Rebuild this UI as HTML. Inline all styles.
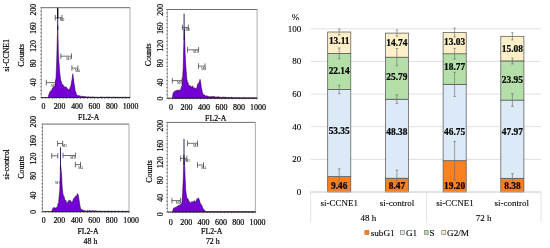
<!DOCTYPE html>
<html><head><meta charset="utf-8"><title>Cell cycle</title>
<style>html,body{margin:0;padding:0;background:#fff;}svg{display:block;filter:blur(0.4px);}text{font-family:"Liberation Serif", serif;fill:#000;stroke:#000;stroke-width:0.2px;}.R text{stroke-width:0.1px;}</style>
</head><body>
<svg width="550" height="248" viewBox="0 0 550 248">
<rect width="550" height="248" fill="#fff"/>
<path d="M48.20,97.60 L48.80,94.67 L49.40,93.24 L50.00,91.50 L50.60,91.17 L51.20,90.24 L51.80,90.23 L52.40,88.26 L53.00,87.38 L53.60,87.11 L54.20,86.50 L54.80,86.70 L55.40,81.71 L56.00,77.96 L56.60,63.91 L57.20,42.04 L57.80,25.54 L58.40,53.22 L59.00,62.39 L59.60,70.82 L60.20,76.52 L60.80,80.31 L61.40,81.77 L62.00,84.73 L62.60,84.24 L63.20,85.09 L63.80,86.60 L64.40,86.58 L65.00,87.96 L65.60,86.72 L66.20,87.24 L66.80,87.58 L67.40,88.55 L68.00,89.48 L68.60,89.98 L69.20,89.36 L69.80,88.57 L70.40,86.91 L71.00,85.41 L71.60,81.52 L72.20,78.39 L72.80,73.78 L73.40,77.95 L74.00,83.32 L74.60,86.17 L75.20,90.64 L75.80,92.08 L76.40,94.19 L77.00,95.07 L77.60,95.57 L78.20,95.62 L78.80,95.87 L79.40,95.73 L80.00,95.92 L80.60,96.15 L81.20,96.59 L81.80,96.52 L82.40,96.26 L83.00,96.23 L83.60,96.58 L84.20,96.47 L84.80,96.78 L85.40,96.58 L86.00,96.52 L86.60,97.07 L87.20,97.01 L87.80,96.73 L88.40,96.73 L89.00,96.96 L89.60,97.01 L90.20,97.01 L90.80,96.78 L91.40,97.30 L92.00,97.07 L92.60,96.86 L93.20,97.25 L93.80,96.86 L94.40,97.30 L95.00,97.06 L95.60,97.18 L96.20,97.12 L96.80,97.30 L97.40,97.27 L98.00,97.18 L98.60,97.26 L99.20,97.30 L99.80,97.30 L100.40,96.88 L101.00,97.08 L101.60,97.05 L102.20,97.15 L102.80,97.17 L103.40,97.30 L104.00,97.08 L104.60,97.20 L105.20,97.11 L105.80,97.30 L106.40,96.94 L107.00,97.09 L107.60,97.12 L108.20,97.03 L108.80,97.30 L109.40,96.97 L110.00,96.97 L110.60,97.30 L111.20,97.30 L111.80,97.30 L112.40,97.10 L113.00,97.30 L113.60,97.27 L114.20,97.02 L114.80,97.12 L115.40,97.20 L116.00,97.30 L116.60,97.16 L117.20,97.01 L117.80,97.30 L118.40,97.30 L119.00,97.30 L119.60,97.30 L120.20,97.30 L120.80,97.19 L121.40,97.30 L122.00,97.30 L122.60,97.25 L123.20,97.17 L123.80,97.30 L124.40,97.30 L125.00,97.30 L125.60,97.13 L126.20,97.30 L126.80,97.30 L127.40,97.30 L128.00,97.15 L128.60,97.30 L129.20,97.24 L129.80,97.30 L130.00,97.40 L130.00,97.60 Z" fill="#7400d6" stroke="#1a0033" stroke-width="0.5" stroke-linejoin="round"/>
<line x1="57.7" y1="7.7" x2="57.7" y2="30.0" stroke="#1c0a48" stroke-width="0.9"/>
<line x1="57.7" y1="7.7" x2="57.7" y2="19.0" stroke="#000" stroke-width="1.1"/>
<line x1="41.3" y1="7.7" x2="130.2" y2="7.7" stroke="#5a5a5a" stroke-width="0.9"/>
<line x1="130.0" y1="7.7" x2="130.0" y2="97.6" stroke="#a4a4a4" stroke-width="0.9"/>
<line x1="41.3" y1="7.7" x2="41.3" y2="97.6" stroke="#909090" stroke-width="0.8"/>
<line x1="40.4" y1="7.70" x2="41.6" y2="7.70" stroke="#444" stroke-width="0.8"/>
<line x1="40.4" y1="11.30" x2="41.6" y2="11.30" stroke="#444" stroke-width="0.8"/>
<line x1="40.4" y1="14.89" x2="41.6" y2="14.89" stroke="#444" stroke-width="0.8"/>
<line x1="40.4" y1="18.49" x2="41.6" y2="18.49" stroke="#444" stroke-width="0.8"/>
<line x1="40.4" y1="22.08" x2="41.6" y2="22.08" stroke="#444" stroke-width="0.8"/>
<line x1="40.4" y1="25.68" x2="41.6" y2="25.68" stroke="#444" stroke-width="0.8"/>
<line x1="40.4" y1="29.28" x2="41.6" y2="29.28" stroke="#444" stroke-width="0.8"/>
<line x1="40.4" y1="32.87" x2="41.6" y2="32.87" stroke="#444" stroke-width="0.8"/>
<line x1="40.4" y1="36.47" x2="41.6" y2="36.47" stroke="#444" stroke-width="0.8"/>
<line x1="40.4" y1="40.06" x2="41.6" y2="40.06" stroke="#444" stroke-width="0.8"/>
<line x1="40.4" y1="43.66" x2="41.6" y2="43.66" stroke="#444" stroke-width="0.8"/>
<line x1="40.4" y1="47.26" x2="41.6" y2="47.26" stroke="#444" stroke-width="0.8"/>
<line x1="40.4" y1="50.85" x2="41.6" y2="50.85" stroke="#444" stroke-width="0.8"/>
<line x1="40.4" y1="54.45" x2="41.6" y2="54.45" stroke="#444" stroke-width="0.8"/>
<line x1="40.4" y1="58.04" x2="41.6" y2="58.04" stroke="#444" stroke-width="0.8"/>
<line x1="40.4" y1="61.64" x2="41.6" y2="61.64" stroke="#444" stroke-width="0.8"/>
<line x1="40.4" y1="65.24" x2="41.6" y2="65.24" stroke="#444" stroke-width="0.8"/>
<line x1="40.4" y1="68.83" x2="41.6" y2="68.83" stroke="#444" stroke-width="0.8"/>
<line x1="40.4" y1="72.43" x2="41.6" y2="72.43" stroke="#444" stroke-width="0.8"/>
<line x1="40.4" y1="76.02" x2="41.6" y2="76.02" stroke="#444" stroke-width="0.8"/>
<line x1="40.4" y1="79.62" x2="41.6" y2="79.62" stroke="#444" stroke-width="0.8"/>
<line x1="40.4" y1="83.22" x2="41.6" y2="83.22" stroke="#444" stroke-width="0.8"/>
<line x1="40.4" y1="86.81" x2="41.6" y2="86.81" stroke="#444" stroke-width="0.8"/>
<line x1="40.4" y1="90.41" x2="41.6" y2="90.41" stroke="#444" stroke-width="0.8"/>
<line x1="40.4" y1="94.00" x2="41.6" y2="94.00" stroke="#444" stroke-width="0.8"/>
<line x1="40.4" y1="97.60" x2="41.6" y2="97.60" stroke="#444" stroke-width="0.8"/>
<line x1="41.3" y1="97.6" x2="130.2" y2="97.6" stroke="#222" stroke-width="1"/>
<line x1="42.1" y1="97.6" x2="42.1" y2="98.8" stroke="#222" stroke-width="0.5"/>
<line x1="45.6" y1="97.6" x2="45.6" y2="98.8" stroke="#222" stroke-width="0.5"/>
<line x1="49.1" y1="97.6" x2="49.1" y2="98.8" stroke="#222" stroke-width="0.5"/>
<line x1="52.6" y1="97.6" x2="52.6" y2="98.8" stroke="#222" stroke-width="0.5"/>
<line x1="56.1" y1="97.6" x2="56.1" y2="98.8" stroke="#222" stroke-width="0.5"/>
<line x1="59.5" y1="97.6" x2="59.5" y2="98.8" stroke="#222" stroke-width="0.5"/>
<line x1="63.0" y1="97.6" x2="63.0" y2="98.8" stroke="#222" stroke-width="0.5"/>
<line x1="66.5" y1="97.6" x2="66.5" y2="98.8" stroke="#222" stroke-width="0.5"/>
<line x1="70.0" y1="97.6" x2="70.0" y2="98.8" stroke="#222" stroke-width="0.5"/>
<line x1="73.5" y1="97.6" x2="73.5" y2="98.8" stroke="#222" stroke-width="0.5"/>
<line x1="77.0" y1="97.6" x2="77.0" y2="98.8" stroke="#222" stroke-width="0.5"/>
<line x1="80.5" y1="97.6" x2="80.5" y2="98.8" stroke="#222" stroke-width="0.5"/>
<line x1="84.0" y1="97.6" x2="84.0" y2="98.8" stroke="#222" stroke-width="0.5"/>
<line x1="87.5" y1="97.6" x2="87.5" y2="98.8" stroke="#222" stroke-width="0.5"/>
<line x1="91.0" y1="97.6" x2="91.0" y2="98.8" stroke="#222" stroke-width="0.5"/>
<line x1="94.5" y1="97.6" x2="94.5" y2="98.8" stroke="#222" stroke-width="0.5"/>
<line x1="97.9" y1="97.6" x2="97.9" y2="98.8" stroke="#222" stroke-width="0.5"/>
<line x1="101.4" y1="97.6" x2="101.4" y2="98.8" stroke="#222" stroke-width="0.5"/>
<line x1="104.9" y1="97.6" x2="104.9" y2="98.8" stroke="#222" stroke-width="0.5"/>
<line x1="108.4" y1="97.6" x2="108.4" y2="98.8" stroke="#222" stroke-width="0.5"/>
<line x1="111.9" y1="97.6" x2="111.9" y2="98.8" stroke="#222" stroke-width="0.5"/>
<line x1="115.4" y1="97.6" x2="115.4" y2="98.8" stroke="#222" stroke-width="0.5"/>
<line x1="118.9" y1="97.6" x2="118.9" y2="98.8" stroke="#222" stroke-width="0.5"/>
<line x1="122.4" y1="97.6" x2="122.4" y2="98.8" stroke="#222" stroke-width="0.5"/>
<line x1="125.9" y1="97.6" x2="125.9" y2="98.8" stroke="#222" stroke-width="0.5"/>
<line x1="129.3" y1="97.6" x2="129.3" y2="98.8" stroke="#222" stroke-width="0.5"/>
<path d="M46.3,82.6 H55.6 M46.3,79.8 V85.4 M55.6,79.8 V85.4" stroke="#333" stroke-width="0.7" fill="none"/>
<text x="53.6" y="86.6" font-size="3.4" text-anchor="middle" style="fill:#1a1a1a;stroke:none">M1</text>
<path d="M60.8,56.2 H71.5 M60.8,53.4 V59.0 M71.5,53.4 V59.0" stroke="#333" stroke-width="0.7" fill="none"/>
<text x="68.6" y="59.6" font-size="3.4" text-anchor="middle" style="fill:#1a1a1a;stroke:none">M3</text>
<path d="M71.9,68.1 H77.9 M71.9,65.3 V70.9 M77.9,65.3 V70.9" stroke="#333" stroke-width="0.7" fill="none"/>
<text x="77.3" y="71.8" font-size="3.4" text-anchor="middle" style="fill:#1a1a1a;stroke:none">M4</text>
<path d="M55.3,17.7 H62.0 M55.3,14.9 V20.5 M62.0,14.9 V20.5" stroke="#333" stroke-width="0.7" fill="none"/>
<text x="62.2" y="21.0" font-size="3.4" text-anchor="middle" style="fill:#1a1a1a;stroke:none">M2</text>
<text x="43.4" y="109.4" font-size="7.8" text-anchor="middle">0</text>
<text x="59.5" y="109.4" font-size="7.8" text-anchor="middle">200</text>
<text x="77.0" y="109.4" font-size="7.8" text-anchor="middle">400</text>
<text x="94.4" y="109.4" font-size="7.8" text-anchor="middle">600</text>
<text x="111.9" y="109.4" font-size="7.8" text-anchor="middle">800</text>
<text x="130.5" y="109.4" font-size="7.8" text-anchor="middle">1000</text>
<text transform="translate(35.6,9.6) rotate(-90)" font-size="7.9" text-anchor="middle">200</text>
<text transform="translate(35.6,28.1) rotate(-90)" font-size="7.9" text-anchor="middle">160</text>
<text transform="translate(35.6,46.0) rotate(-90)" font-size="7.9" text-anchor="middle">120</text>
<text transform="translate(35.6,63.4) rotate(-90)" font-size="7.9" text-anchor="middle">80</text>
<text transform="translate(35.6,82.2) rotate(-90)" font-size="7.9" text-anchor="middle">40</text>
<text transform="translate(35.6,98.4) rotate(-90)" font-size="7.9" text-anchor="middle">0</text>
<text transform="translate(24.4,55.2) rotate(-90)" font-size="8.1" text-anchor="middle">Counts</text>
<text x="88.7" y="120.1" font-size="7.8" text-anchor="middle">FL2-A</text>
<path d="M172.40,98.20 L173.00,93.23 L173.60,92.50 L174.20,91.51 L174.80,91.22 L175.40,91.99 L176.00,90.14 L176.60,91.65 L177.20,89.87 L177.80,91.26 L178.40,89.94 L179.00,90.28 L179.60,90.20 L180.20,89.73 L180.80,89.71 L181.40,86.64 L182.00,86.00 L182.60,78.06 L183.20,68.04 L183.80,43.15 L184.40,28.78 L185.00,49.49 L185.60,63.56 L186.20,71.13 L186.80,78.82 L187.40,81.63 L188.00,82.46 L188.60,85.56 L189.20,85.22 L189.80,85.60 L190.40,86.00 L191.00,86.28 L191.60,86.82 L192.20,87.45 L192.80,85.78 L193.40,88.26 L194.00,88.36 L194.60,87.80 L195.20,88.04 L195.80,89.24 L196.40,89.03 L197.00,86.86 L197.60,84.25 L198.20,83.75 L198.80,82.70 L199.40,81.49 L200.00,79.28 L200.60,81.16 L201.20,86.88 L201.80,89.26 L202.40,92.61 L203.00,93.87 L203.60,95.25 L204.20,94.82 L204.80,95.08 L205.40,95.88 L206.00,96.18 L206.60,95.84 L207.20,96.27 L207.80,95.84 L208.40,96.48 L209.00,96.77 L209.60,96.73 L210.20,96.83 L210.80,96.50 L211.40,96.40 L212.00,96.80 L212.60,96.42 L213.20,96.37 L213.80,96.60 L214.40,96.63 L215.00,96.89 L215.60,96.88 L216.20,96.88 L216.80,96.90 L217.40,96.99 L218.00,96.85 L218.60,96.79 L219.20,97.06 L219.80,97.28 L220.40,97.24 L221.00,97.17 L221.60,97.46 L222.20,97.25 L222.80,96.97 L223.40,97.14 L224.00,96.93 L224.60,97.36 L225.20,97.00 L225.80,97.18 L226.40,97.52 L227.00,97.64 L227.60,97.33 L228.20,97.46 L228.80,97.30 L229.40,97.50 L230.00,97.77 L230.60,97.76 L231.20,97.15 L231.80,97.37 L232.40,97.60 L233.00,97.75 L233.60,97.64 L234.20,97.66 L234.80,97.75 L235.40,97.90 L236.00,97.39 L236.60,97.90 L237.20,97.68 L237.80,97.53 L238.40,97.64 L239.00,97.86 L239.60,97.58 L240.20,97.63 L240.80,97.90 L241.40,97.90 L242.00,97.72 L242.60,97.90 L243.20,97.84 L243.80,97.55 L244.40,97.59 L245.00,97.90 L245.60,97.85 L246.20,97.66 L246.80,97.90 L247.40,97.90 L248.00,97.90 L248.60,97.68 L249.20,97.86 L249.80,97.90 L250.40,97.90 L251.00,97.90 L251.60,97.79 L252.20,97.90 L252.80,97.70 L253.40,97.81 L254.00,97.90 L254.60,97.79 L255.20,97.90 L255.80,97.90 L256.40,97.90 L257.00,97.90 L257.30,98.10 L257.30,98.20 Z" fill="#7400d6" stroke="#1a0033" stroke-width="0.5" stroke-linejoin="round"/>
<line x1="184.1" y1="13.7" x2="184.1" y2="40.0" stroke="#1c0a48" stroke-width="0.9"/>
<line x1="167.3" y1="9.5" x2="257.3" y2="9.5" stroke="#5a5a5a" stroke-width="0.9"/>
<line x1="257.1" y1="9.5" x2="257.1" y2="98.2" stroke="#a4a4a4" stroke-width="0.9"/>
<line x1="167.3" y1="9.5" x2="167.3" y2="98.2" stroke="#909090" stroke-width="0.8"/>
<line x1="166.4" y1="9.50" x2="167.6" y2="9.50" stroke="#444" stroke-width="0.8"/>
<line x1="166.4" y1="13.05" x2="167.6" y2="13.05" stroke="#444" stroke-width="0.8"/>
<line x1="166.4" y1="16.60" x2="167.6" y2="16.60" stroke="#444" stroke-width="0.8"/>
<line x1="166.4" y1="20.14" x2="167.6" y2="20.14" stroke="#444" stroke-width="0.8"/>
<line x1="166.4" y1="23.69" x2="167.6" y2="23.69" stroke="#444" stroke-width="0.8"/>
<line x1="166.4" y1="27.24" x2="167.6" y2="27.24" stroke="#444" stroke-width="0.8"/>
<line x1="166.4" y1="30.79" x2="167.6" y2="30.79" stroke="#444" stroke-width="0.8"/>
<line x1="166.4" y1="34.34" x2="167.6" y2="34.34" stroke="#444" stroke-width="0.8"/>
<line x1="166.4" y1="37.88" x2="167.6" y2="37.88" stroke="#444" stroke-width="0.8"/>
<line x1="166.4" y1="41.43" x2="167.6" y2="41.43" stroke="#444" stroke-width="0.8"/>
<line x1="166.4" y1="44.98" x2="167.6" y2="44.98" stroke="#444" stroke-width="0.8"/>
<line x1="166.4" y1="48.53" x2="167.6" y2="48.53" stroke="#444" stroke-width="0.8"/>
<line x1="166.4" y1="52.08" x2="167.6" y2="52.08" stroke="#444" stroke-width="0.8"/>
<line x1="166.4" y1="55.62" x2="167.6" y2="55.62" stroke="#444" stroke-width="0.8"/>
<line x1="166.4" y1="59.17" x2="167.6" y2="59.17" stroke="#444" stroke-width="0.8"/>
<line x1="166.4" y1="62.72" x2="167.6" y2="62.72" stroke="#444" stroke-width="0.8"/>
<line x1="166.4" y1="66.27" x2="167.6" y2="66.27" stroke="#444" stroke-width="0.8"/>
<line x1="166.4" y1="69.82" x2="167.6" y2="69.82" stroke="#444" stroke-width="0.8"/>
<line x1="166.4" y1="73.36" x2="167.6" y2="73.36" stroke="#444" stroke-width="0.8"/>
<line x1="166.4" y1="76.91" x2="167.6" y2="76.91" stroke="#444" stroke-width="0.8"/>
<line x1="166.4" y1="80.46" x2="167.6" y2="80.46" stroke="#444" stroke-width="0.8"/>
<line x1="166.4" y1="84.01" x2="167.6" y2="84.01" stroke="#444" stroke-width="0.8"/>
<line x1="166.4" y1="87.56" x2="167.6" y2="87.56" stroke="#444" stroke-width="0.8"/>
<line x1="166.4" y1="91.10" x2="167.6" y2="91.10" stroke="#444" stroke-width="0.8"/>
<line x1="166.4" y1="94.65" x2="167.6" y2="94.65" stroke="#444" stroke-width="0.8"/>
<line x1="166.4" y1="98.20" x2="167.6" y2="98.20" stroke="#444" stroke-width="0.8"/>
<line x1="167.3" y1="98.2" x2="257.3" y2="98.2" stroke="#222" stroke-width="1"/>
<line x1="168.9" y1="98.2" x2="168.9" y2="99.4" stroke="#222" stroke-width="0.5"/>
<line x1="172.4" y1="98.2" x2="172.4" y2="99.4" stroke="#222" stroke-width="0.5"/>
<line x1="175.9" y1="98.2" x2="175.9" y2="99.4" stroke="#222" stroke-width="0.5"/>
<line x1="179.4" y1="98.2" x2="179.4" y2="99.4" stroke="#222" stroke-width="0.5"/>
<line x1="182.9" y1="98.2" x2="182.9" y2="99.4" stroke="#222" stroke-width="0.5"/>
<line x1="186.5" y1="98.2" x2="186.5" y2="99.4" stroke="#222" stroke-width="0.5"/>
<line x1="190.0" y1="98.2" x2="190.0" y2="99.4" stroke="#222" stroke-width="0.5"/>
<line x1="193.5" y1="98.2" x2="193.5" y2="99.4" stroke="#222" stroke-width="0.5"/>
<line x1="197.0" y1="98.2" x2="197.0" y2="99.4" stroke="#222" stroke-width="0.5"/>
<line x1="200.5" y1="98.2" x2="200.5" y2="99.4" stroke="#222" stroke-width="0.5"/>
<line x1="204.0" y1="98.2" x2="204.0" y2="99.4" stroke="#222" stroke-width="0.5"/>
<line x1="207.5" y1="98.2" x2="207.5" y2="99.4" stroke="#222" stroke-width="0.5"/>
<line x1="211.0" y1="98.2" x2="211.0" y2="99.4" stroke="#222" stroke-width="0.5"/>
<line x1="214.5" y1="98.2" x2="214.5" y2="99.4" stroke="#222" stroke-width="0.5"/>
<line x1="218.0" y1="98.2" x2="218.0" y2="99.4" stroke="#222" stroke-width="0.5"/>
<line x1="221.6" y1="98.2" x2="221.6" y2="99.4" stroke="#222" stroke-width="0.5"/>
<line x1="225.1" y1="98.2" x2="225.1" y2="99.4" stroke="#222" stroke-width="0.5"/>
<line x1="228.6" y1="98.2" x2="228.6" y2="99.4" stroke="#222" stroke-width="0.5"/>
<line x1="232.1" y1="98.2" x2="232.1" y2="99.4" stroke="#222" stroke-width="0.5"/>
<line x1="235.6" y1="98.2" x2="235.6" y2="99.4" stroke="#222" stroke-width="0.5"/>
<line x1="239.1" y1="98.2" x2="239.1" y2="99.4" stroke="#222" stroke-width="0.5"/>
<line x1="242.6" y1="98.2" x2="242.6" y2="99.4" stroke="#222" stroke-width="0.5"/>
<line x1="246.1" y1="98.2" x2="246.1" y2="99.4" stroke="#222" stroke-width="0.5"/>
<line x1="249.6" y1="98.2" x2="249.6" y2="99.4" stroke="#222" stroke-width="0.5"/>
<line x1="253.1" y1="98.2" x2="253.1" y2="99.4" stroke="#222" stroke-width="0.5"/>
<line x1="256.6" y1="98.2" x2="256.6" y2="99.4" stroke="#222" stroke-width="0.5"/>
<path d="M172.3,80.6 H182.0 M172.3,77.8 V83.4 M182.0,77.8 V83.4" stroke="#333" stroke-width="0.7" fill="none"/>
<text x="179.4" y="84.3" font-size="3.4" text-anchor="middle" style="fill:#1a1a1a;stroke:none">M1</text>
<path d="M187.5,49.8 H198.6 M187.5,47.0 V52.6 M198.6,47.0 V52.6" stroke="#333" stroke-width="0.7" fill="none"/>
<text x="195.7" y="53.2" font-size="3.4" text-anchor="middle" style="fill:#1a1a1a;stroke:none">M3</text>
<path d="M198.5,66.1 H205.0 M198.5,63.3 V68.9 M205.0,63.3 V68.9" stroke="#333" stroke-width="0.7" fill="none"/>
<text x="203.6" y="69.8" font-size="3.4" text-anchor="middle" style="fill:#1a1a1a;stroke:none">M4</text>
<path d="M182.4,27.5 H188.4 M182.4,24.7 V30.3 M188.4,24.7 V30.3" stroke="#333" stroke-width="0.7" fill="none"/>
<text x="187.8" y="31.0" font-size="3.4" text-anchor="middle" style="fill:#1a1a1a;stroke:none">M2</text>
<text x="171.1" y="109.8" font-size="8.0" text-anchor="middle">0</text>
<text x="186.5" y="109.8" font-size="8.0" text-anchor="middle">200</text>
<text x="204.0" y="109.8" font-size="8.0" text-anchor="middle">400</text>
<text x="221.6" y="109.8" font-size="8.0" text-anchor="middle">600</text>
<text x="239.1" y="109.8" font-size="8.0" text-anchor="middle">800</text>
<text x="258.0" y="109.8" font-size="8.0" text-anchor="middle">1000</text>
<text transform="translate(163.0,9.8) rotate(-90)" font-size="7.9" text-anchor="middle">200</text>
<text transform="translate(163.0,28.2) rotate(-90)" font-size="7.9" text-anchor="middle">160</text>
<text transform="translate(163.0,45.8) rotate(-90)" font-size="7.9" text-anchor="middle">120</text>
<text transform="translate(163.0,63.2) rotate(-90)" font-size="7.9" text-anchor="middle">80</text>
<text transform="translate(163.0,82.4) rotate(-90)" font-size="7.9" text-anchor="middle">40</text>
<text transform="translate(163.0,98.5) rotate(-90)" font-size="7.9" text-anchor="middle">0</text>
<text transform="translate(151.4,54.9) rotate(-90)" font-size="8.1" text-anchor="middle">Counts</text>
<text x="215.7" y="120.7" font-size="7.8" text-anchor="middle">FL2-A</text>
<path d="M51.40,211.70 L52.00,210.44 L52.60,209.06 L53.20,208.05 L53.80,207.35 L54.40,207.73 L55.00,207.71 L55.60,208.16 L56.20,207.41 L56.80,207.39 L57.40,206.86 L58.00,203.77 L58.60,202.47 L59.20,195.77 L59.80,189.82 L60.40,165.33 L61.00,168.39 L61.60,174.44 L62.20,187.07 L62.80,192.80 L63.40,196.07 L64.00,196.13 L64.60,198.81 L65.20,201.05 L65.80,200.34 L66.40,201.98 L67.00,203.54 L67.60,202.72 L68.20,201.05 L68.80,200.59 L69.40,200.09 L70.00,200.72 L70.60,200.65 L71.20,202.00 L71.80,202.19 L72.40,201.38 L73.00,200.54 L73.60,198.51 L74.20,198.44 L74.80,197.30 L75.40,196.57 L76.00,195.75 L76.60,196.83 L77.20,193.73 L77.80,193.93 L78.40,195.65 L79.00,199.43 L79.60,203.42 L80.20,206.90 L80.80,209.05 L81.40,209.46 L82.00,209.52 L82.60,210.07 L83.20,210.20 L83.80,210.57 L84.40,210.38 L85.00,210.78 L85.60,210.94 L86.20,211.03 L86.80,211.02 L87.40,210.40 L88.00,210.79 L88.60,210.97 L89.20,210.62 L89.80,210.76 L90.40,210.50 L91.00,211.15 L91.60,210.90 L92.20,210.70 L92.80,210.70 L93.40,210.66 L94.00,210.78 L94.60,211.09 L95.20,210.73 L95.80,210.84 L96.40,210.97 L97.00,211.05 L97.60,211.40 L98.20,210.87 L98.80,211.40 L99.40,211.04 L100.00,211.34 L100.60,211.03 L101.20,211.23 L101.80,211.40 L102.40,211.17 L103.00,211.02 L103.60,211.40 L104.20,211.36 L104.80,211.10 L105.40,211.02 L106.00,211.40 L106.60,211.35 L107.20,211.37 L107.80,211.00 L108.40,211.06 L109.00,211.25 L109.60,211.09 L110.20,211.40 L110.80,211.40 L111.40,211.03 L112.00,211.38 L112.60,211.19 L113.20,211.40 L113.80,211.37 L114.40,210.96 L115.00,210.98 L115.60,211.40 L116.20,211.30 L116.80,211.40 L117.40,211.16 L118.00,211.40 L118.60,211.14 L119.20,211.40 L119.80,211.34 L120.40,211.40 L121.00,211.40 L121.60,211.40 L122.20,211.20 L122.80,211.04 L123.40,211.40 L124.00,211.09 L124.60,211.40 L125.20,211.36 L125.80,211.38 L126.40,211.40 L127.00,211.40 L127.60,211.22 L128.20,211.40 L128.80,211.40 L129.20,211.40 L129.20,211.70 Z" fill="#7400d6" stroke="#1a0033" stroke-width="0.5" stroke-linejoin="round"/>
<line x1="60.5" y1="147.3" x2="60.5" y2="170.0" stroke="#1c0a48" stroke-width="0.9"/>
<line x1="42.5" y1="124.1" x2="129.2" y2="124.1" stroke="#5a5a5a" stroke-width="0.9"/>
<line x1="129.0" y1="124.1" x2="129.0" y2="211.7" stroke="#a4a4a4" stroke-width="0.9"/>
<line x1="42.5" y1="124.1" x2="42.5" y2="211.7" stroke="#909090" stroke-width="0.8"/>
<line x1="41.6" y1="124.10" x2="42.8" y2="124.10" stroke="#444" stroke-width="0.8"/>
<line x1="41.6" y1="127.60" x2="42.8" y2="127.60" stroke="#444" stroke-width="0.8"/>
<line x1="41.6" y1="131.11" x2="42.8" y2="131.11" stroke="#444" stroke-width="0.8"/>
<line x1="41.6" y1="134.61" x2="42.8" y2="134.61" stroke="#444" stroke-width="0.8"/>
<line x1="41.6" y1="138.12" x2="42.8" y2="138.12" stroke="#444" stroke-width="0.8"/>
<line x1="41.6" y1="141.62" x2="42.8" y2="141.62" stroke="#444" stroke-width="0.8"/>
<line x1="41.6" y1="145.12" x2="42.8" y2="145.12" stroke="#444" stroke-width="0.8"/>
<line x1="41.6" y1="148.63" x2="42.8" y2="148.63" stroke="#444" stroke-width="0.8"/>
<line x1="41.6" y1="152.13" x2="42.8" y2="152.13" stroke="#444" stroke-width="0.8"/>
<line x1="41.6" y1="155.64" x2="42.8" y2="155.64" stroke="#444" stroke-width="0.8"/>
<line x1="41.6" y1="159.14" x2="42.8" y2="159.14" stroke="#444" stroke-width="0.8"/>
<line x1="41.6" y1="162.64" x2="42.8" y2="162.64" stroke="#444" stroke-width="0.8"/>
<line x1="41.6" y1="166.15" x2="42.8" y2="166.15" stroke="#444" stroke-width="0.8"/>
<line x1="41.6" y1="169.65" x2="42.8" y2="169.65" stroke="#444" stroke-width="0.8"/>
<line x1="41.6" y1="173.16" x2="42.8" y2="173.16" stroke="#444" stroke-width="0.8"/>
<line x1="41.6" y1="176.66" x2="42.8" y2="176.66" stroke="#444" stroke-width="0.8"/>
<line x1="41.6" y1="180.16" x2="42.8" y2="180.16" stroke="#444" stroke-width="0.8"/>
<line x1="41.6" y1="183.67" x2="42.8" y2="183.67" stroke="#444" stroke-width="0.8"/>
<line x1="41.6" y1="187.17" x2="42.8" y2="187.17" stroke="#444" stroke-width="0.8"/>
<line x1="41.6" y1="190.68" x2="42.8" y2="190.68" stroke="#444" stroke-width="0.8"/>
<line x1="41.6" y1="194.18" x2="42.8" y2="194.18" stroke="#444" stroke-width="0.8"/>
<line x1="41.6" y1="197.68" x2="42.8" y2="197.68" stroke="#444" stroke-width="0.8"/>
<line x1="41.6" y1="201.19" x2="42.8" y2="201.19" stroke="#444" stroke-width="0.8"/>
<line x1="41.6" y1="204.69" x2="42.8" y2="204.69" stroke="#444" stroke-width="0.8"/>
<line x1="41.6" y1="208.20" x2="42.8" y2="208.20" stroke="#444" stroke-width="0.8"/>
<line x1="41.6" y1="211.70" x2="42.8" y2="211.70" stroke="#444" stroke-width="0.8"/>
<line x1="42.5" y1="211.7" x2="129.2" y2="211.7" stroke="#222" stroke-width="1"/>
<line x1="41.9" y1="211.7" x2="41.9" y2="212.9" stroke="#222" stroke-width="0.5"/>
<line x1="45.4" y1="211.7" x2="45.4" y2="212.9" stroke="#222" stroke-width="0.5"/>
<line x1="48.9" y1="211.7" x2="48.9" y2="212.9" stroke="#222" stroke-width="0.5"/>
<line x1="52.4" y1="211.7" x2="52.4" y2="212.9" stroke="#222" stroke-width="0.5"/>
<line x1="55.9" y1="211.7" x2="55.9" y2="212.9" stroke="#222" stroke-width="0.5"/>
<line x1="59.3" y1="211.7" x2="59.3" y2="212.9" stroke="#222" stroke-width="0.5"/>
<line x1="62.8" y1="211.7" x2="62.8" y2="212.9" stroke="#222" stroke-width="0.5"/>
<line x1="66.3" y1="211.7" x2="66.3" y2="212.9" stroke="#222" stroke-width="0.5"/>
<line x1="69.8" y1="211.7" x2="69.8" y2="212.9" stroke="#222" stroke-width="0.5"/>
<line x1="73.3" y1="211.7" x2="73.3" y2="212.9" stroke="#222" stroke-width="0.5"/>
<line x1="76.8" y1="211.7" x2="76.8" y2="212.9" stroke="#222" stroke-width="0.5"/>
<line x1="80.3" y1="211.7" x2="80.3" y2="212.9" stroke="#222" stroke-width="0.5"/>
<line x1="83.8" y1="211.7" x2="83.8" y2="212.9" stroke="#222" stroke-width="0.5"/>
<line x1="87.3" y1="211.7" x2="87.3" y2="212.9" stroke="#222" stroke-width="0.5"/>
<line x1="90.8" y1="211.7" x2="90.8" y2="212.9" stroke="#222" stroke-width="0.5"/>
<line x1="94.2" y1="211.7" x2="94.2" y2="212.9" stroke="#222" stroke-width="0.5"/>
<line x1="97.7" y1="211.7" x2="97.7" y2="212.9" stroke="#222" stroke-width="0.5"/>
<line x1="101.2" y1="211.7" x2="101.2" y2="212.9" stroke="#222" stroke-width="0.5"/>
<line x1="104.7" y1="211.7" x2="104.7" y2="212.9" stroke="#222" stroke-width="0.5"/>
<line x1="108.2" y1="211.7" x2="108.2" y2="212.9" stroke="#222" stroke-width="0.5"/>
<line x1="111.7" y1="211.7" x2="111.7" y2="212.9" stroke="#222" stroke-width="0.5"/>
<line x1="115.2" y1="211.7" x2="115.2" y2="212.9" stroke="#222" stroke-width="0.5"/>
<line x1="118.7" y1="211.7" x2="118.7" y2="212.9" stroke="#222" stroke-width="0.5"/>
<line x1="122.2" y1="211.7" x2="122.2" y2="212.9" stroke="#222" stroke-width="0.5"/>
<line x1="125.7" y1="211.7" x2="125.7" y2="212.9" stroke="#222" stroke-width="0.5"/>
<line x1="129.2" y1="211.7" x2="129.2" y2="212.9" stroke="#222" stroke-width="0.5"/>
<path d="M57.6,143.5 H62.7 M57.6,140.7 V146.3 M62.7,140.7 V146.3" stroke="#333" stroke-width="0.7" fill="none"/>
<text x="64.5" y="146.6" font-size="3.4" text-anchor="middle" style="fill:#1a1a1a;stroke:none">M2</text>
<path d="M51.7,155.8 H57.8 M51.7,153.0 V158.6 M57.8,153.0 V158.6" stroke="#333" stroke-width="0.7" fill="none"/>
<text x="0.0" y="1.0" font-size="3.4" text-anchor="middle" style="fill:#1a1a1a;stroke:none"></text>
<path d="M63.0,155.5 H75.4 M63.0,152.7 V158.3 M75.4,152.7 V158.3" stroke="#333" stroke-width="0.7" fill="none"/>
<text x="72.7" y="159.0" font-size="3.4" text-anchor="middle" style="fill:#1a1a1a;stroke:none">M3</text>
<path d="M75.4,164.6 H80.5 M75.4,161.8 V167.4 M80.5,161.8 V167.4" stroke="#333" stroke-width="0.7" fill="none"/>
<text x="80.7" y="169.3" font-size="3.4" text-anchor="middle" style="fill:#1a1a1a;stroke:none">M4</text>
<text x="43.8" y="223.3" font-size="7.8" text-anchor="middle">0</text>
<text x="59.3" y="223.3" font-size="7.8" text-anchor="middle">200</text>
<text x="76.8" y="223.3" font-size="7.8" text-anchor="middle">400</text>
<text x="94.2" y="223.3" font-size="7.8" text-anchor="middle">600</text>
<text x="111.7" y="223.3" font-size="7.8" text-anchor="middle">800</text>
<text x="131.1" y="223.3" font-size="7.8" text-anchor="middle">1000</text>
<text transform="translate(35.9,121.6) rotate(-90)" font-size="7.9" text-anchor="middle">200</text>
<text transform="translate(35.9,140.9) rotate(-90)" font-size="7.9" text-anchor="middle">160</text>
<text transform="translate(35.9,158.5) rotate(-90)" font-size="7.9" text-anchor="middle">120</text>
<text transform="translate(35.9,175.8) rotate(-90)" font-size="7.9" text-anchor="middle">80</text>
<text transform="translate(35.9,195.4) rotate(-90)" font-size="7.9" text-anchor="middle">40</text>
<text transform="translate(35.9,211.7) rotate(-90)" font-size="7.9" text-anchor="middle">0</text>
<text transform="translate(24.0,167.4) rotate(-90)" font-size="8.1" text-anchor="middle">Counts</text>
<text x="88.0" y="233.8" font-size="7.8" text-anchor="middle">FL2-A</text>
<text x="57.7" y="183.8" font-size="3.4" text-anchor="middle" style="fill:#1a1a1a;stroke:none">M1</text>
<path d="M172.50,212.00 L173.10,209.66 L173.70,207.72 L174.30,207.98 L174.90,208.17 L175.50,207.12 L176.10,207.50 L176.70,207.01 L177.30,206.03 L177.90,205.95 L178.50,205.48 L179.10,205.82 L179.70,204.85 L180.30,204.48 L180.90,204.87 L181.50,203.43 L182.10,201.67 L182.70,191.52 L183.30,177.81 L183.90,154.66 L184.50,162.34 L185.10,176.93 L185.70,189.94 L186.30,194.74 L186.90,197.52 L187.50,199.36 L188.10,198.79 L188.70,201.42 L189.30,201.11 L189.90,202.94 L190.50,202.89 L191.10,202.37 L191.70,201.73 L192.30,201.59 L192.90,202.60 L193.50,201.66 L194.10,200.55 L194.70,201.03 L195.30,202.09 L195.90,202.05 L196.50,199.77 L197.10,198.64 L197.70,199.38 L198.30,197.78 L198.90,198.91 L199.50,200.36 L200.10,202.85 L200.70,203.77 L201.30,204.73 L201.90,205.46 L202.50,207.57 L203.10,208.49 L203.70,209.60 L204.30,210.09 L204.90,210.55 L205.50,211.19 L206.10,211.70 L206.70,211.65 L207.30,211.70 L207.90,211.70 L208.50,211.62 L209.10,211.70 L209.70,211.64 L210.30,211.70 L210.90,211.70 L211.50,211.70 L212.10,211.52 L212.70,211.58 L213.30,211.70 L213.90,211.52 L214.50,211.70 L215.10,211.70 L215.70,211.62 L216.30,211.57 L216.90,211.70 L217.50,211.70 L218.10,211.70 L218.70,211.70 L219.30,211.55 L219.90,211.70 L220.50,211.45 L221.10,211.68 L221.70,211.70 L222.30,211.59 L222.90,211.70 L223.50,211.70 L224.10,211.70 L224.70,211.68 L225.30,211.53 L225.90,211.69 L226.50,211.49 L227.10,211.70 L227.70,211.49 L228.30,211.70 L228.90,211.70 L229.50,211.70 L230.10,211.57 L230.70,211.70 L231.30,211.70 L231.90,211.69 L232.50,211.70 L233.10,211.57 L233.70,211.70 L234.30,211.70 L234.90,211.70 L235.50,211.68 L236.10,211.70 L236.70,211.70 L237.30,211.59 L237.90,211.70 L238.50,211.70 L239.10,211.70 L239.70,211.70 L240.30,211.70 L240.90,211.70 L241.50,211.70 L242.10,211.70 L242.70,211.70 L243.30,211.70 L243.90,211.70 L244.50,211.70 L245.10,211.70 L245.70,211.70 L246.30,211.70 L246.90,211.70 L247.50,211.70 L248.10,211.70 L248.70,211.70 L249.30,211.70 L249.90,211.70 L250.50,211.70 L251.10,211.70 L251.70,211.64 L252.30,211.70 L252.90,211.70 L253.50,211.70 L254.10,211.66 L254.70,211.70 L255.30,211.70 L255.60,212.00 L255.60,212.00 Z" fill="#7400d6" stroke="#1a0033" stroke-width="0.5" stroke-linejoin="round"/>
<line x1="184.0" y1="138.8" x2="184.0" y2="165.0" stroke="#1c0a48" stroke-width="0.9"/>
<line x1="167.3" y1="122.4" x2="255.6" y2="122.4" stroke="#5a5a5a" stroke-width="0.9"/>
<line x1="255.4" y1="122.4" x2="255.4" y2="212.0" stroke="#a4a4a4" stroke-width="0.9"/>
<line x1="167.3" y1="122.4" x2="167.3" y2="212.0" stroke="#909090" stroke-width="0.8"/>
<line x1="166.4" y1="122.40" x2="167.6" y2="122.40" stroke="#444" stroke-width="0.8"/>
<line x1="166.4" y1="125.98" x2="167.6" y2="125.98" stroke="#444" stroke-width="0.8"/>
<line x1="166.4" y1="129.57" x2="167.6" y2="129.57" stroke="#444" stroke-width="0.8"/>
<line x1="166.4" y1="133.15" x2="167.6" y2="133.15" stroke="#444" stroke-width="0.8"/>
<line x1="166.4" y1="136.74" x2="167.6" y2="136.74" stroke="#444" stroke-width="0.8"/>
<line x1="166.4" y1="140.32" x2="167.6" y2="140.32" stroke="#444" stroke-width="0.8"/>
<line x1="166.4" y1="143.90" x2="167.6" y2="143.90" stroke="#444" stroke-width="0.8"/>
<line x1="166.4" y1="147.49" x2="167.6" y2="147.49" stroke="#444" stroke-width="0.8"/>
<line x1="166.4" y1="151.07" x2="167.6" y2="151.07" stroke="#444" stroke-width="0.8"/>
<line x1="166.4" y1="154.66" x2="167.6" y2="154.66" stroke="#444" stroke-width="0.8"/>
<line x1="166.4" y1="158.24" x2="167.6" y2="158.24" stroke="#444" stroke-width="0.8"/>
<line x1="166.4" y1="161.82" x2="167.6" y2="161.82" stroke="#444" stroke-width="0.8"/>
<line x1="166.4" y1="165.41" x2="167.6" y2="165.41" stroke="#444" stroke-width="0.8"/>
<line x1="166.4" y1="168.99" x2="167.6" y2="168.99" stroke="#444" stroke-width="0.8"/>
<line x1="166.4" y1="172.58" x2="167.6" y2="172.58" stroke="#444" stroke-width="0.8"/>
<line x1="166.4" y1="176.16" x2="167.6" y2="176.16" stroke="#444" stroke-width="0.8"/>
<line x1="166.4" y1="179.74" x2="167.6" y2="179.74" stroke="#444" stroke-width="0.8"/>
<line x1="166.4" y1="183.33" x2="167.6" y2="183.33" stroke="#444" stroke-width="0.8"/>
<line x1="166.4" y1="186.91" x2="167.6" y2="186.91" stroke="#444" stroke-width="0.8"/>
<line x1="166.4" y1="190.50" x2="167.6" y2="190.50" stroke="#444" stroke-width="0.8"/>
<line x1="166.4" y1="194.08" x2="167.6" y2="194.08" stroke="#444" stroke-width="0.8"/>
<line x1="166.4" y1="197.66" x2="167.6" y2="197.66" stroke="#444" stroke-width="0.8"/>
<line x1="166.4" y1="201.25" x2="167.6" y2="201.25" stroke="#444" stroke-width="0.8"/>
<line x1="166.4" y1="204.83" x2="167.6" y2="204.83" stroke="#444" stroke-width="0.8"/>
<line x1="166.4" y1="208.42" x2="167.6" y2="208.42" stroke="#444" stroke-width="0.8"/>
<line x1="166.4" y1="212.00" x2="167.6" y2="212.00" stroke="#444" stroke-width="0.8"/>
<line x1="167.3" y1="212.0" x2="255.6" y2="212.0" stroke="#222" stroke-width="1"/>
<line x1="168.9" y1="212.0" x2="168.9" y2="213.2" stroke="#222" stroke-width="0.5"/>
<line x1="172.4" y1="212.0" x2="172.4" y2="213.2" stroke="#222" stroke-width="0.5"/>
<line x1="175.8" y1="212.0" x2="175.8" y2="213.2" stroke="#222" stroke-width="0.5"/>
<line x1="179.3" y1="212.0" x2="179.3" y2="213.2" stroke="#222" stroke-width="0.5"/>
<line x1="182.8" y1="212.0" x2="182.8" y2="213.2" stroke="#222" stroke-width="0.5"/>
<line x1="186.2" y1="212.0" x2="186.2" y2="213.2" stroke="#222" stroke-width="0.5"/>
<line x1="189.7" y1="212.0" x2="189.7" y2="213.2" stroke="#222" stroke-width="0.5"/>
<line x1="193.2" y1="212.0" x2="193.2" y2="213.2" stroke="#222" stroke-width="0.5"/>
<line x1="196.7" y1="212.0" x2="196.7" y2="213.2" stroke="#222" stroke-width="0.5"/>
<line x1="200.1" y1="212.0" x2="200.1" y2="213.2" stroke="#222" stroke-width="0.5"/>
<line x1="203.6" y1="212.0" x2="203.6" y2="213.2" stroke="#222" stroke-width="0.5"/>
<line x1="207.1" y1="212.0" x2="207.1" y2="213.2" stroke="#222" stroke-width="0.5"/>
<line x1="210.5" y1="212.0" x2="210.5" y2="213.2" stroke="#222" stroke-width="0.5"/>
<line x1="214.0" y1="212.0" x2="214.0" y2="213.2" stroke="#222" stroke-width="0.5"/>
<line x1="217.5" y1="212.0" x2="217.5" y2="213.2" stroke="#222" stroke-width="0.5"/>
<line x1="220.9" y1="212.0" x2="220.9" y2="213.2" stroke="#222" stroke-width="0.5"/>
<line x1="224.4" y1="212.0" x2="224.4" y2="213.2" stroke="#222" stroke-width="0.5"/>
<line x1="227.9" y1="212.0" x2="227.9" y2="213.2" stroke="#222" stroke-width="0.5"/>
<line x1="231.4" y1="212.0" x2="231.4" y2="213.2" stroke="#222" stroke-width="0.5"/>
<line x1="234.8" y1="212.0" x2="234.8" y2="213.2" stroke="#222" stroke-width="0.5"/>
<line x1="238.3" y1="212.0" x2="238.3" y2="213.2" stroke="#222" stroke-width="0.5"/>
<line x1="241.8" y1="212.0" x2="241.8" y2="213.2" stroke="#222" stroke-width="0.5"/>
<line x1="245.2" y1="212.0" x2="245.2" y2="213.2" stroke="#222" stroke-width="0.5"/>
<line x1="248.7" y1="212.0" x2="248.7" y2="213.2" stroke="#222" stroke-width="0.5"/>
<line x1="252.2" y1="212.0" x2="252.2" y2="213.2" stroke="#222" stroke-width="0.5"/>
<line x1="255.7" y1="212.0" x2="255.7" y2="213.2" stroke="#222" stroke-width="0.5"/>
<path d="M187.5,143.3 H197.5 M187.5,140.5 V146.1 M197.5,140.5 V146.1" stroke="#333" stroke-width="0.7" fill="none"/>
<text x="195.7" y="146.8" font-size="3.4" text-anchor="middle" style="fill:#1a1a1a;stroke:none">M3</text>
<path d="M180.6,158.4 H186.8 M180.6,155.6 V161.2 M186.8,155.6 V161.2" stroke="#333" stroke-width="0.7" fill="none"/>
<text x="187.5" y="162.0" font-size="3.4" text-anchor="middle" style="fill:#1a1a1a;stroke:none">M2</text>
<path d="M197.5,165.0 H203.5 M197.5,162.2 V167.8 M203.5,162.2 V167.8" stroke="#333" stroke-width="0.7" fill="none"/>
<text x="203.5" y="169.3" font-size="3.4" text-anchor="middle" style="fill:#1a1a1a;stroke:none">M4</text>
<path d="M171.9,200.6 H180.5 M171.9,197.8 V203.4 M180.5,197.8 V203.4" stroke="#333" stroke-width="0.7" fill="none"/>
<text x="178.0" y="204.0" font-size="3.4" text-anchor="middle" style="fill:#1a1a1a;stroke:none">M1</text>
<text x="170.7" y="224.7" font-size="8.0" text-anchor="middle">0</text>
<text x="186.2" y="224.7" font-size="8.0" text-anchor="middle">200</text>
<text x="203.6" y="224.7" font-size="8.0" text-anchor="middle">400</text>
<text x="221.0" y="224.7" font-size="8.0" text-anchor="middle">600</text>
<text x="238.3" y="224.7" font-size="8.0" text-anchor="middle">800</text>
<text x="257.4" y="224.7" font-size="8.0" text-anchor="middle">1000</text>
<text transform="translate(162.5,125.6) rotate(-90)" font-size="7.9" text-anchor="middle">200</text>
<text transform="translate(162.5,145.6) rotate(-90)" font-size="7.9" text-anchor="middle">160</text>
<text transform="translate(162.5,162.4) rotate(-90)" font-size="7.9" text-anchor="middle">120</text>
<text transform="translate(162.5,180.2) rotate(-90)" font-size="7.9" text-anchor="middle">80</text>
<text transform="translate(162.5,197.8) rotate(-90)" font-size="7.9" text-anchor="middle">40</text>
<text transform="translate(162.5,214.2) rotate(-90)" font-size="7.9" text-anchor="middle">0</text>
<text transform="translate(151.8,171.4) rotate(-90)" font-size="8.0" text-anchor="middle">Counts</text>
<text x="211.7" y="234.2" font-size="7.8" text-anchor="middle">FL2-A</text>
<text transform="translate(9.0,55.3) rotate(-90)" font-size="7.8" text-anchor="middle">si-CCNE1</text>
<text transform="translate(9.0,164.3) rotate(-90)" font-size="7.9" text-anchor="middle">si-control</text>
<text x="90.5" y="243.8" font-size="7.9" text-anchor="middle">48 h</text>
<text x="212.8" y="243.9" font-size="7.9" text-anchor="middle">72 h</text>
<g class="R">
<line x1="310.7" y1="192.0" x2="541.0" y2="192.0" stroke="#d9d9d9" stroke-width="0.8"/>
<text x="301.3" y="195.0" font-size="9" text-anchor="end">0</text>
<line x1="310.7" y1="159.4" x2="541.0" y2="159.4" stroke="#d9d9d9" stroke-width="0.8"/>
<text x="301.3" y="162.4" font-size="9" text-anchor="end">20</text>
<line x1="310.7" y1="126.7" x2="541.0" y2="126.7" stroke="#d9d9d9" stroke-width="0.8"/>
<text x="301.3" y="129.7" font-size="9" text-anchor="end">40</text>
<line x1="310.7" y1="94.1" x2="541.0" y2="94.1" stroke="#d9d9d9" stroke-width="0.8"/>
<text x="301.3" y="97.1" font-size="9" text-anchor="end">60</text>
<line x1="310.7" y1="61.4" x2="541.0" y2="61.4" stroke="#d9d9d9" stroke-width="0.8"/>
<text x="301.3" y="64.4" font-size="9" text-anchor="end">80</text>
<line x1="310.7" y1="28.8" x2="541.0" y2="28.8" stroke="#d9d9d9" stroke-width="0.8"/>
<text x="301.3" y="31.8" font-size="9" text-anchor="end">100</text>
<text x="295.4" y="19.6" font-size="9" text-anchor="middle">%</text>
<rect x="327.7" y="176.6" width="23.1" height="15.4" fill="#f98122" stroke="#505050" stroke-width="0.7"/>
<rect x="327.7" y="89.5" width="23.1" height="87.1" fill="#dce9f6" stroke="#505050" stroke-width="0.7"/>
<rect x="327.7" y="53.4" width="23.1" height="36.1" fill="#b5dfa8" stroke="#505050" stroke-width="0.7"/>
<rect x="327.7" y="32.0" width="23.1" height="21.4" fill="#fdf0c8" stroke="#505050" stroke-width="0.7"/>
<path d="M339.2,168.9 V184.2 M337.9,168.9 H340.6 M337.9,184.2 H340.6" stroke="#666" stroke-width="0.6" fill="none"/>
<path d="M339.2,85.3 V93.7 M337.9,85.3 H340.6 M337.9,93.7 H340.6" stroke="#666" stroke-width="0.6" fill="none"/>
<path d="M339.2,48.0 V58.7 M337.9,48.0 H340.6 M337.9,58.7 H340.6" stroke="#666" stroke-width="0.6" fill="none"/>
<path d="M339.2,29.0 V34.9 M337.9,29.0 H340.6 M337.9,34.9 H340.6" stroke="#666" stroke-width="0.6" fill="none"/>
<text x="339.2" y="189.2" font-size="9.4" font-weight="bold" text-anchor="middle" style="stroke-width:0.2px">9.46</text>
<text x="339.2" y="134.4" font-size="9.4" font-weight="bold" text-anchor="middle" style="stroke-width:0.2px">53.35</text>
<text x="339.2" y="74.1" font-size="9.4" font-weight="bold" text-anchor="middle" style="stroke-width:0.2px">22.14</text>
<text x="339.2" y="43.8" font-size="9.4" font-weight="bold" text-anchor="middle" style="stroke-width:0.2px">13.11</text>
<rect x="385.4" y="178.2" width="23.1" height="13.8" fill="#f98122" stroke="#505050" stroke-width="0.7"/>
<rect x="385.4" y="99.2" width="23.1" height="79.0" fill="#dce9f6" stroke="#505050" stroke-width="0.7"/>
<rect x="385.4" y="57.1" width="23.1" height="42.1" fill="#b5dfa8" stroke="#505050" stroke-width="0.7"/>
<rect x="385.4" y="33.1" width="23.1" height="24.1" fill="#fdf0c8" stroke="#505050" stroke-width="0.7"/>
<path d="M396.9,170.2 V186.2 M395.6,170.2 H398.2 M395.6,186.2 H398.2" stroke="#666" stroke-width="0.6" fill="none"/>
<path d="M396.9,94.8 V103.6 M395.6,94.8 H398.2 M395.6,103.6 H398.2" stroke="#666" stroke-width="0.6" fill="none"/>
<path d="M396.9,48.5 V65.8 M395.6,48.5 H398.2 M395.6,65.8 H398.2" stroke="#666" stroke-width="0.6" fill="none"/>
<path d="M396.9,30.0 V36.2 M395.6,30.0 H398.2 M395.6,36.2 H398.2" stroke="#666" stroke-width="0.6" fill="none"/>
<text x="396.9" y="189.2" font-size="9.4" font-weight="bold" text-anchor="middle" style="stroke-width:0.2px">8.47</text>
<text x="396.9" y="134.9" font-size="9.4" font-weight="bold" text-anchor="middle" style="stroke-width:0.2px">48.38</text>
<text x="396.9" y="80.0" font-size="9.4" font-weight="bold" text-anchor="middle" style="stroke-width:0.2px">25.79</text>
<text x="396.9" y="46.2" font-size="9.4" font-weight="bold" text-anchor="middle" style="stroke-width:0.2px">14.74</text>
<rect x="443.1" y="160.7" width="23.1" height="31.3" fill="#f98122" stroke="#505050" stroke-width="0.7"/>
<rect x="443.1" y="84.4" width="23.1" height="76.3" fill="#dce9f6" stroke="#505050" stroke-width="0.7"/>
<rect x="443.1" y="53.7" width="23.1" height="30.6" fill="#b5dfa8" stroke="#505050" stroke-width="0.7"/>
<rect x="443.1" y="32.5" width="23.1" height="21.3" fill="#fdf0c8" stroke="#505050" stroke-width="0.7"/>
<path d="M454.6,141.4 V179.9 M453.3,141.4 H455.9 M453.3,179.9 H455.9" stroke="#666" stroke-width="0.6" fill="none"/>
<path d="M454.6,72.3 V96.4 M453.3,72.3 H455.9 M453.3,96.4 H455.9" stroke="#666" stroke-width="0.6" fill="none"/>
<path d="M454.6,48.4 V59.1 M453.3,48.4 H455.9 M453.3,59.1 H455.9" stroke="#666" stroke-width="0.6" fill="none"/>
<path d="M454.6,28.1 V36.9 M453.3,28.1 H455.9 M453.3,36.9 H455.9" stroke="#666" stroke-width="0.6" fill="none"/>
<text x="454.6" y="188.7" font-size="9.4" font-weight="bold" text-anchor="middle" style="stroke-width:0.2px">19.20</text>
<text x="454.6" y="134.5" font-size="9.4" font-weight="bold" text-anchor="middle" style="stroke-width:0.2px">46.75</text>
<text x="454.6" y="70.0" font-size="9.4" font-weight="bold" text-anchor="middle" style="stroke-width:0.2px">18.77</text>
<text x="454.6" y="44.9" font-size="9.4" font-weight="bold" text-anchor="middle" style="stroke-width:0.2px">13.03</text>
<rect x="500.8" y="178.3" width="23.1" height="13.7" fill="#f98122" stroke="#505050" stroke-width="0.7"/>
<rect x="500.8" y="100.0" width="23.1" height="78.3" fill="#dce9f6" stroke="#505050" stroke-width="0.7"/>
<rect x="500.8" y="61.0" width="23.1" height="39.1" fill="#b5dfa8" stroke="#505050" stroke-width="0.7"/>
<rect x="500.8" y="36.3" width="23.1" height="24.6" fill="#fdf0c8" stroke="#505050" stroke-width="0.7"/>
<path d="M512.4,173.6 V183.1 M511.1,173.6 H513.7 M511.1,183.1 H513.7" stroke="#666" stroke-width="0.6" fill="none"/>
<path d="M512.4,93.7 V106.4 M511.1,93.7 H513.7 M511.1,106.4 H513.7" stroke="#666" stroke-width="0.6" fill="none"/>
<path d="M512.4,58.0 V63.9 M511.1,58.0 H513.7 M511.1,63.9 H513.7" stroke="#666" stroke-width="0.6" fill="none"/>
<path d="M512.4,32.7 V39.9 M511.1,32.7 H513.7 M511.1,39.9 H513.7" stroke="#666" stroke-width="0.6" fill="none"/>
<text x="512.4" y="188.7" font-size="9.4" font-weight="bold" text-anchor="middle" style="stroke-width:0.2px">8.38</text>
<text x="512.4" y="134.5" font-size="9.4" font-weight="bold" text-anchor="middle" style="stroke-width:0.2px">47.97</text>
<text x="512.4" y="82.8" font-size="9.4" font-weight="bold" text-anchor="middle" style="stroke-width:0.2px">23.95</text>
<text x="512.4" y="52.4" font-size="9.4" font-weight="bold" text-anchor="middle" style="stroke-width:0.2px">15.08</text>
<line x1="310.7" y1="192.0" x2="541.0" y2="192.0" stroke="#d0d0d0" stroke-width="0.8"/>
<line x1="310.7" y1="192.0" x2="310.7" y2="222.6" stroke="#dedede" stroke-width="0.8"/>
<line x1="426.5" y1="192.0" x2="426.5" y2="222.6" stroke="#dedede" stroke-width="0.8"/>
<line x1="541.0" y1="192.0" x2="541.0" y2="222.6" stroke="#dedede" stroke-width="0.8"/>
<text x="339.3" y="206.0" font-size="9" text-anchor="middle">si-CCNE1</text>
<text x="397.1" y="206.0" font-size="9" text-anchor="middle">si-control</text>
<text x="454.9" y="206.0" font-size="9" text-anchor="middle">si-CCNE1</text>
<text x="511.8" y="206.0" font-size="9" text-anchor="middle">si-control</text>
<text x="368.4" y="221.2" font-size="9" text-anchor="middle">48 h</text>
<text x="483.7" y="221.2" font-size="9" text-anchor="middle">72 h</text>
<rect x="364.9" y="230.6" width="3.9" height="3.9" fill="#f98122" stroke="#d06a1c" stroke-width="0.7"/>
<text x="370.7" y="235.6" font-size="9.2">subG1</text>
<rect x="400.4" y="230.6" width="3.9" height="3.9" fill="#dce9f6" stroke="#808080" stroke-width="0.7"/>
<text x="405.9" y="235.6" font-size="9.2">G1</text>
<rect x="424.3" y="230.6" width="3.9" height="3.9" fill="#b5dfa8" stroke="#808080" stroke-width="0.7"/>
<text x="429.6" y="235.6" font-size="9.2">S</text>
<rect x="441.8" y="230.6" width="3.9" height="3.9" fill="#fdf0c8" stroke="#808080" stroke-width="0.7"/>
<text x="447.0" y="235.6" font-size="9.2">G2/M</text>
</g>
</svg></body></html>
